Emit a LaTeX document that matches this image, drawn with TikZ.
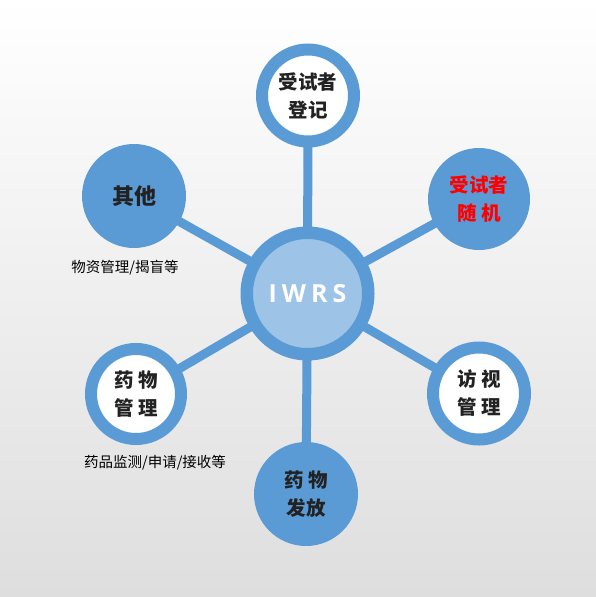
\documentclass[tikz,border=0pt]{standalone}
\usepackage{fontspec}
\newfontfamily\cjk{Noto Sans CJK SC}
\newfontfamily\latinb{Open Sans}
\definecolor{ringblue}{HTML}{5B9BD5}
\definecolor{lightblue}{HTML}{9DC3E6}
\definecolor{txt}{HTML}{222222}
\definecolor{bgbot}{HTML}{DEDEDE}
\pgfdeclarelayer{bgA}
\pgfdeclarelayer{bgB}
\pgfsetlayers{bgA,bgB,main}
\tikzset{
  ringnode/.style={circle, draw=ringblue, line width=12pt, fill=white, minimum size=92pt, inner sep=0pt},
  fillnode/.style={circle, fill=ringblue, minimum size=104pt, inner sep=0pt},
  hubnode/.style={circle, draw=ringblue, line width=12.5pt, fill=lightblue, minimum size=121.5pt, inner sep=0pt},
  lbl/.style={font=\cjk\bfseries\fontsize{19.5}{28}\selectfont, text=txt, align=center},
  sub/.style={font=\cjk\fontsize{14.5}{16}\selectfont, text=black},
  spoke/.style={draw=ringblue, line width=9pt}
}
\begin{document}
\begin{tikzpicture}[x=1pt,y=-1pt]
\useasboundingbox (0,0) rectangle (596,597);
\begin{pgfonlayer}{bgA}
\shade[top color=white, bottom color=bgbot] (0,0) rectangle (596,597);
\end{pgfonlayer}
\node[hubnode] (c) at (307.5,293.5) {\latinb\bfseries\fontsize{25}{30}\selectfont\color{white}I\hspace{5pt}W\hspace{5pt}R\hspace{5pt}S};
\node[ringnode, lbl] (t) at (308,95.5) {受试者\\登记};
\node[fillnode, lbl, text=red, minimum size=102pt] (tr) at (479,199) {受试者\\随\hspace{4pt}机};
\node[ringnode, lbl] (r) at (479,393.5) {访\hspace{5pt}视\\管\hspace{5pt}理};
\node[fillnode, lbl] (b) at (306,494) {药\hspace{5pt}物\\发放};
\node[ringnode, lbl, minimum size=90pt] (bl) at (136,394) {药\hspace{5pt}物\\管\hspace{5pt}理};
\node[fillnode, lbl, font=\cjk\bfseries\fontsize{22}{28}\selectfont] (tl) at (134,196) {其他};
\node[sub] (s1) at (125,268) {物资管理/揭盲等};
\node[sub] (s2) at (155,463) {药品监测/申请/接收等};
\begin{pgfonlayer}{bgB}
\foreach \n in {t,tr,r,b,bl,tl} \draw[spoke] (c.center) -- (\n.center);
\end{pgfonlayer}
\end{tikzpicture}
\end{document}
